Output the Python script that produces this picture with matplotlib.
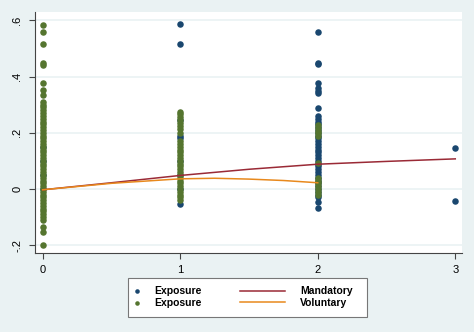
import numpy as np
import matplotlib
matplotlib.use("Agg")
import matplotlib.pyplot as plt
from matplotlib.patches import Rectangle

plt.rcParams['font.family'] = ['Liberation Sans', 'DejaVu Sans']

# exposure values per group
blue_x0 = [0.0, 0.05, 0.1, 0.15]
blue_x1 = [0.586, 0.515, 0.245, 0.19, 0.18, 0.1, 0.05, 0.0, -0.053]
blue_x2 = [0.558, 0.45, 0.445, 0.378, 0.36, 0.35, 0.34, 0.288, 0.26, 0.25,
           0.24, 0.23, 0.22, 0.21, 0.2, 0.19, 0.18, 0.17, 0.16, 0.15, 0.14,
           0.13, 0.12, 0.11, 0.1, 0.09, 0.08, 0.07, 0.06, 0.05, 0.04, 0.03,
           0.02, 0.01, 0.0, -0.01, -0.02, -0.03, -0.045, -0.068]
blue_x3 = [0.147, -0.042]

green_x0 = [0.585, 0.557, 0.516, 0.45, 0.44, 0.378, 0.352, 0.335,
            0.31, 0.3, 0.29, 0.28, 0.27, 0.26, 0.25, 0.24, 0.23, 0.22, 0.21,
            0.2, 0.19, 0.18, 0.17, 0.16, 0.15, 0.14, 0.13, 0.12, 0.11, 0.1,
            0.09, 0.08, 0.07, 0.06, 0.05, 0.04, 0.03, 0.02, 0.01, 0.0,
            -0.01, -0.02, -0.03, -0.04, -0.05, -0.06, -0.07, -0.08, -0.09,
            -0.1, -0.11, -0.135, -0.152, -0.2]
green_x1 = [0.275, 0.265, 0.255, 0.245, 0.235, 0.225, 0.215, 0.2, 0.17,
            0.16, 0.15, 0.14, 0.13, 0.12, 0.11, 0.1, 0.09, 0.08, 0.07, 0.06,
            0.05, 0.04, 0.03, 0.02, 0.01, 0.0, -0.01, -0.02, -0.03, -0.04]
green_x2 = [0.228, 0.218, 0.208, 0.198, 0.188, 0.093, 0.04, 0.03, 0.02,
            0.01, 0.0, -0.01, -0.02]

# fitted lines
mand_x = [0, 0.5, 1, 1.5, 2, 2.5, 3]
mand_y = [-0.003, 0.022, 0.048, 0.07, 0.088, 0.098, 0.107]
vol_x = [0, 0.5, 1, 1.25, 1.5, 1.75, 2]
vol_y = [-0.003, 0.02, 0.036, 0.038, 0.035, 0.03, 0.022]

navy = '#1a476f'
green = '#55752f'
maroon = '#9a2a36'
orange = '#e8891d'

fig = plt.figure(figsize=(4.74, 3.32), dpi=100)
fig.patch.set_facecolor('#eaf2f3')
ax = fig.add_axes([0.0738, 0.238, 0.9009, 0.726])
ax.set_facecolor('white')

bx = [0] * len(blue_x0) + [1] * len(blue_x1) + [2] * len(blue_x2) + [3] * len(blue_x3)
by = blue_x0 + blue_x1 + blue_x2 + blue_x3
gx = [0] * len(green_x0) + [1] * len(green_x1) + [2] * len(green_x2)
gy = green_x0 + green_x1 + green_x2

h1 = ax.scatter(bx, by, s=22, color=navy, linewidths=0, zorder=3)
h2 = ax.scatter(gx, gy, s=22, color=green, linewidths=0, zorder=4)
l1, = ax.plot(mand_x, mand_y, color=maroon, lw=1.1, zorder=5)
l2, = ax.plot(vol_x, vol_y, color=orange, lw=1.1, zorder=5)

ax.set_xlim(-0.056, 3.049)
ax.set_ylim(-0.228, 0.63)
ax.set_xticks([0, 1, 2, 3])
ax.set_xticklabels(['0', '1', '2', '3'])
ax.set_yticks([-0.2, 0, 0.2, 0.4, 0.6])
ax.set_yticklabels(['-.2', '0', '.2', '.4', '.6'], rotation=90, va='center')
ax.tick_params(labelsize=8, length=4, color='#444444', pad=5)
for y in [-0.2, 0, 0.2, 0.4, 0.6]:
    ax.axhline(y, color='#eaf2f3', lw=1.2, zorder=1)
for s in ['top', 'right']:
    ax.spines[s].set_visible(False)
for s in ['left', 'bottom']:
    ax.spines[s].set_color('#444444')

# legend: frame plus two borderless column legends
fig.patches.append(Rectangle((128 / 474, 1 - 317 / 332), 239 / 474, 39 / 332,
                             transform=fig.transFigure, facecolor='white',
                             edgecolor='#777777', lw=0.8, zorder=0))
yc = 1 - 297 / 332
leg1 = fig.legend([h1, h2], ['Exposure', 'Exposure'], loc='center left',
                  bbox_to_anchor=(131.5 / 474, yc), frameon=False,
                  prop={'weight': 'bold', 'size': 7.5}, handlelength=1,
                  handletextpad=1.16, borderpad=0, borderaxespad=0,
                  labelspacing=0.15, markerscale=0.7)
leg2 = fig.legend([l1, l2], ['Mandatory', 'Voluntary'], loc='center left',
                  bbox_to_anchor=(240 / 474, yc), frameon=False,
                  prop={'weight': 'bold', 'size': 7.5}, handlelength=4.3,
                  handletextpad=1.44, borderpad=0, borderaxespad=0,
                  labelspacing=0.15)

fig.savefig('out.png', dpi=100, facecolor=fig.get_facecolor())
